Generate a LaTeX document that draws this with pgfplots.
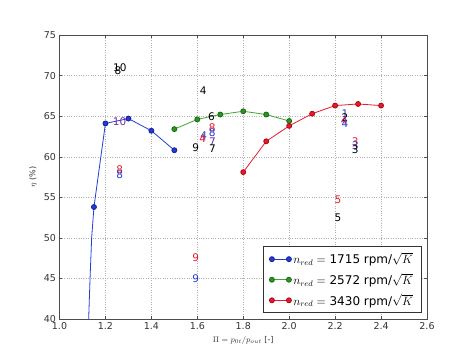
\documentclass[border=0pt]{standalone}
\usepackage{fontspec}
\setmainfont{DejaVu Sans}
\usepackage{pgfplots}
\pgfplotsset{compat=1.18}
\definecolor{cb}{RGB}{35,60,215}
\definecolor{cbd}{RGB}{20,30,150}
\definecolor{cg}{RGB}{60,170,40}
\definecolor{cgd}{RGB}{20,110,20}
\definecolor{cr}{RGB}{230,25,45}
\definecolor{crd}{RGB}{170,10,20}
\definecolor{cp}{RGB}{120,40,170}
\begin{document}
\begin{tikzpicture}
\useasboundingbox (-59.5pt,-36pt) rectangle (414.5pt,319pt);
\begin{axis}[
  at={(0,0)}, anchor=south west, scale only axis,
  width=367.5pt, height=284pt,
  xmin=1, xmax=2.6, ymin=40, ymax=75,
  xtick={1.0,1.2,1.4,1.6,1.8,2.0,2.2,2.4,2.6},
  ytick={40,45,50,55,60,65,70,75},
  xticklabel style={/pgf/number format/.cd, fixed, fixed zerofill, precision=1},
  /pgf/number format/assume math mode=true,
  tick label style={font=\fontsize{9.5}{11}\selectfont, black!80},
  grid=major, grid style={dotted, gray!60},
  axis line style={black!70, line width=0.9pt},
  tick align=inside, tick style={black!70},
  major tick length=3pt,
  xlabel={$\Pi = p_{0t}/p_{out}$ [-]},
  ylabel={$\eta$ (\%)},
  label style={font=\fontsize{8}{10}\selectfont, black!80},
  clip=true,
  legend cell align=left,
  legend style={at={(rel axis cs:1,0)}, anchor=south east, xshift=-5.5pt, yshift=6pt,
    draw=black!80, line width=0.8pt, font=\fontsize{12}{14}\selectfont,
    inner xsep=6pt, inner ysep=4pt, row sep=4pt},
  legend image code/.code={
    \draw[#1, mark=none] (0pt,0pt) -- (17pt,0pt);
    \draw[#1, only marks] plot coordinates {(0pt,0pt) (17pt,0pt)};
  },
]
\addplot[cb, thick, forget plot]
  coordinates {(1.127,40) (1.133,45) (1.140,50) (1.15,53.8)};
\addplot[cb, thick, mark=*, mark size=2.5pt, mark options={fill=cb, draw=cbd}]
  coordinates {(1.15,53.8) (1.2,64.1) (1.3,64.7) (1.4,63.2) (1.5,60.8)};
\addlegendentry{$n_{red}=$ 1715 rpm/$\sqrt{K}$}
\addplot[cg, thick, mark=*, mark size=2.5pt, mark options={fill=cg!85!black, draw=cgd}]
  coordinates {(1.5,63.4) (1.6,64.6) (1.7,65.2) (1.8,65.6) (1.9,65.2) (2.0,64.4)};
\addlegendentry{$n_{red}=$ 2572 rpm/$\sqrt{K}$}
\addplot[cr, thick, mark=*, mark size=2.5pt, mark options={fill=cr, draw=crd}]
  coordinates {(1.8,58.1) (1.9,61.9) (2.0,63.8) (2.1,65.3) (2.2,66.3) (2.3,66.5) (2.4,66.3)};
\addlegendentry{$n_{red}=$ 3430 rpm/$\sqrt{K}$}

\begin{scope}[every node/.style={font=\fontsize{10.5}{12}\selectfont, inner sep=0pt}]
\node[black] at (axis cs:1.263,71.0) {10};
\node[black] at (axis cs:1.255,70.6) {8};
\node[cp] at (axis cs:1.262,64.3) {10};
\node[cr] at (axis cs:1.262,58.4) {8};
\node[cb] at (axis cs:1.262,57.8) {8};
\node[black] at (axis cs:1.626,68.1) {4};
\node[black] at (axis cs:1.662,64.9) {6};
\node[cr] at (axis cs:1.665,63.6) {8};
\node[cb] at (axis cs:1.665,63.0) {8};
\node[cb] at (axis cs:1.628,62.6) {4};
\node[cr] at (axis cs:1.623,62.2) {4};
\node[cp] at (axis cs:1.666,61.9) {7};
\node[black] at (axis cs:1.666,61.0) {7};
\node[black] at (axis cs:1.593,61.1) {9};
\node[cr] at (axis cs:1.593,47.5) {9};
\node[cb] at (axis cs:1.593,45.0) {9};
\node[cr] at (axis cs:2.212,54.7) {5};
\node[black] at (axis cs:2.212,52.5) {5};
\node[cb] at (axis cs:2.243,65.3) {1};
\node[black] at (axis cs:2.243,64.8) {2};
\node[cr] at (axis cs:2.240,64.4) {4};
\node[cb] at (axis cs:2.243,64.1) {4};
\node[cr] at (axis cs:2.287,61.8) {3};
\node[cb] at (axis cs:2.287,61.4) {3};
\node[black] at (axis cs:2.287,60.9) {3};
\end{scope}
\end{axis}
\end{tikzpicture}
\end{document}
